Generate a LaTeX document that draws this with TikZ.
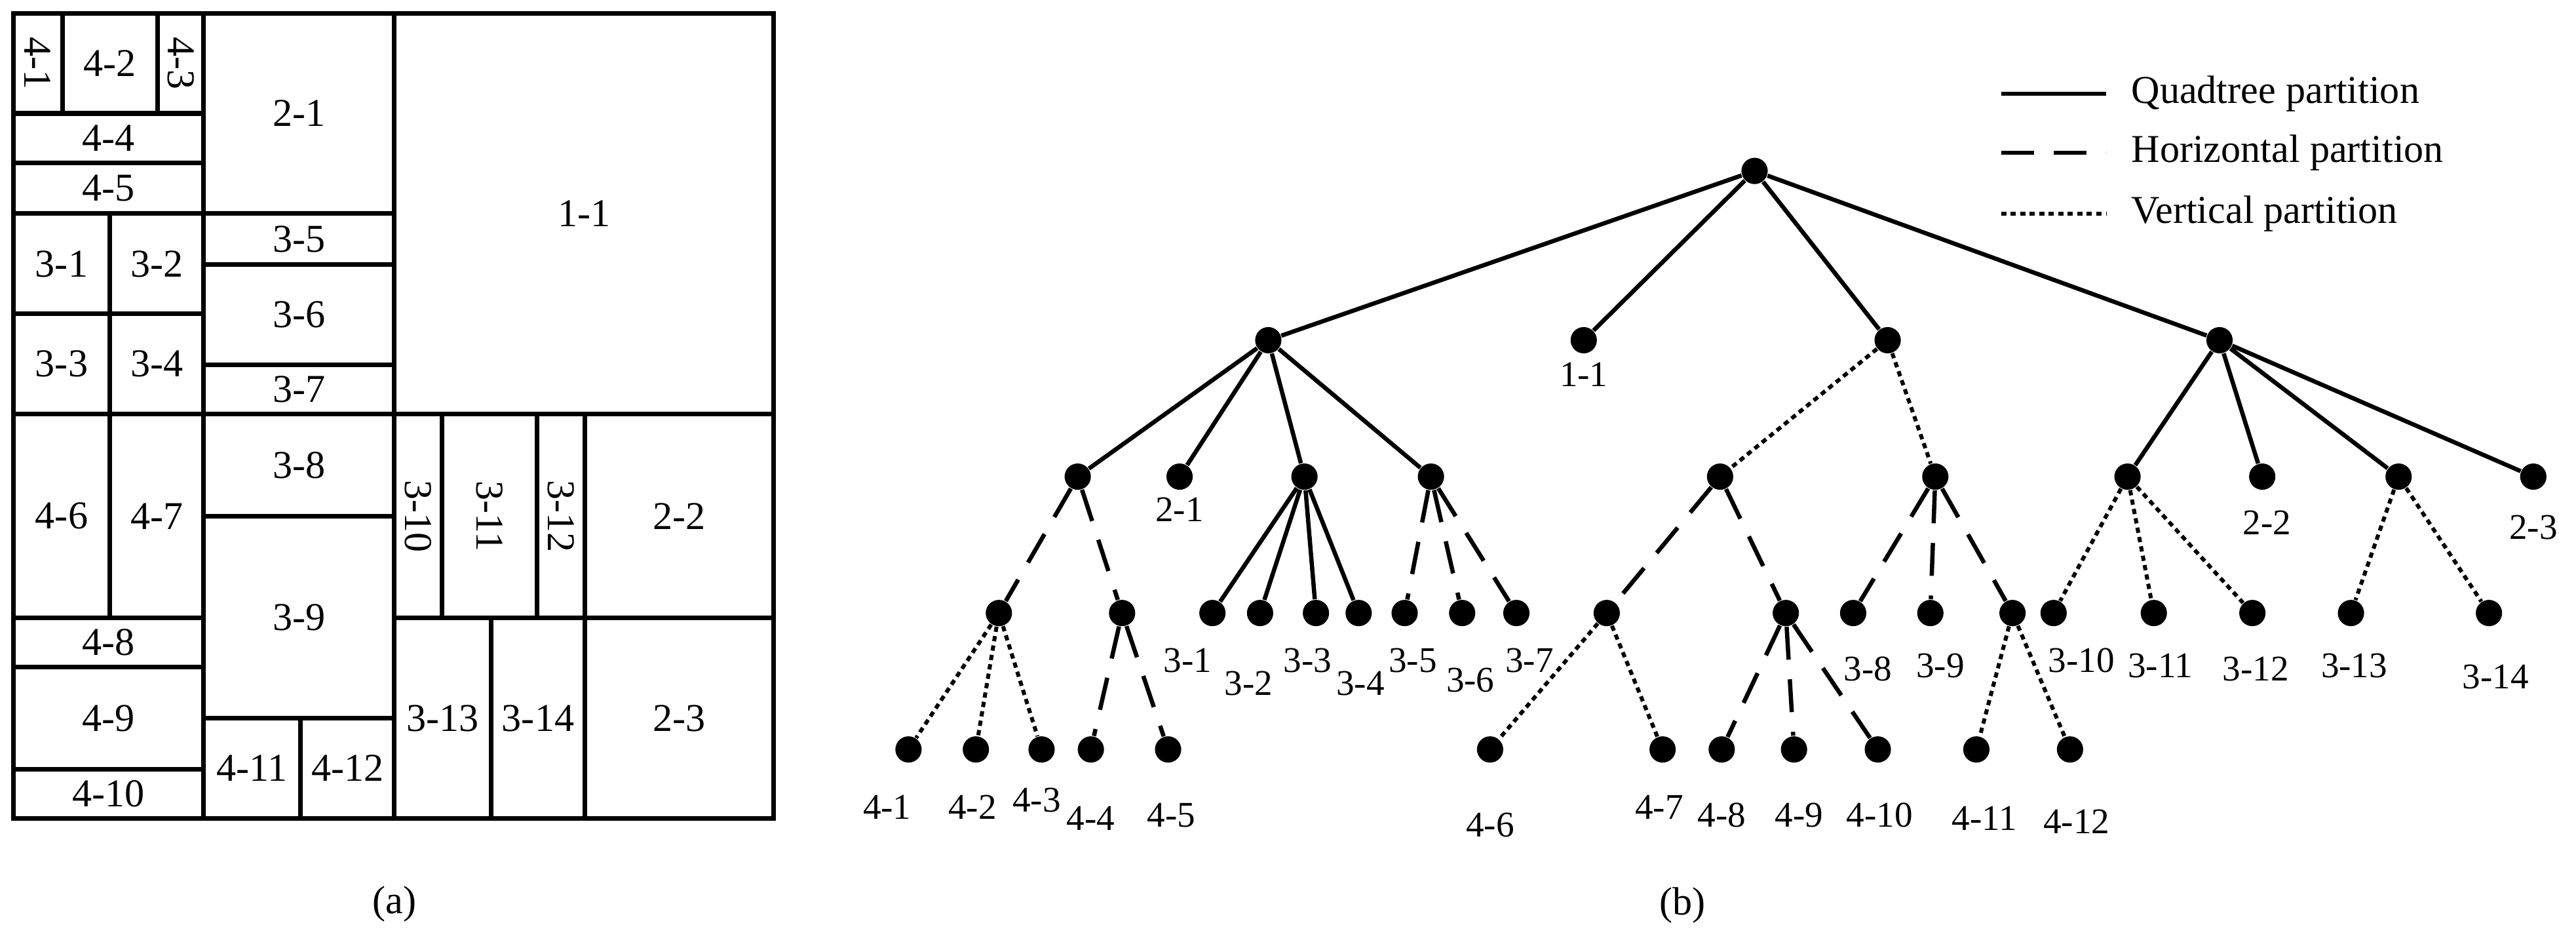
\documentclass[tikz,border=0pt]{standalone}
\usepackage{fontspec}
\setmainfont{Liberation Serif}
\begin{document}
\begin{tikzpicture}[x=0.5pt,y=-0.5pt,
  box/.style={draw,line width=1.4pt},
  lbl/.style={font=\fontsize{12}{14}\selectfont,inner sep=0pt},
  dot/.style={circle,fill=black,inner sep=0pt,minimum size=8pt},
  tl/.style={font=\fontsize{11}{13}\selectfont,inner sep=0pt},
  qd/.style={line width=1.3pt},
  hz/.style={line width=1.3pt,dash pattern=on 10pt off 6pt},
  vt/.style={line width=1.2pt,dash pattern=on 1.6pt off 1.3pt}]
\useasboundingbox (0,0) rectangle (1568,574);
% ---- panel (a)
\def\cell#1#2#3#4#5{\draw[box] (#1,#2) rectangle (#3,#4); \node[lbl] at ({(#1+#3)/2},{(#2+#4)/2}) {#5};}
\def\rcell#1#2#3#4#5{\draw[box] (#1,#2) rectangle (#3,#4); \node[lbl,rotate=-90] at ({(#1+#3)/2},{(#2+#4)/2}) {#5};}
\rcell{8}{8}{38}{69}{4-1}
\cell{38}{8}{96}{69}{4-2}
\rcell{96}{8}{124}{69}{4-3}
\cell{8}{69}{124}{99}{4-4}
\cell{8}{99}{124}{130}{4-5}
\cell{124}{8}{240}{130}{2-1}
\cell{8}{130}{67}{191}{3-1}
\cell{67}{130}{124}{191}{3-2}
\cell{8}{191}{67}{252}{3-3}
\cell{67}{191}{124}{252}{3-4}
\cell{124}{130}{240}{161}{3-5}
\cell{124}{161}{240}{222}{3-6}
\cell{124}{222}{240}{252}{3-7}
\cell{240}{8}{471}{252}{1-1}
\cell{8}{252}{67}{376}{4-6}
\cell{67}{252}{124}{376}{4-7}
\cell{8}{376}{124}{406}{4-8}
\cell{8}{406}{124}{468}{4-9}
\cell{8}{468}{124}{498}{4-10}
\cell{124}{252}{240}{314}{3-8}
\cell{124}{314}{240}{437}{3-9}
\cell{124}{437}{183}{498}{4-11}
\cell{183}{437}{240}{498}{4-12}
\rcell{240}{252}{269}{376}{3-10}
\rcell{269}{252}{327}{376}{3-11}
\rcell{327}{252}{356}{376}{3-12}
\cell{356}{252}{471}{376}{2-2}
\cell{240}{376}{299}{498}{3-13}
\cell{299}{376}{356}{498}{3-14}
\cell{356}{376}{471}{498}{2-3}
\node[lbl] (capa) at (240,550) {(a)};
% ---- panel (b) legend
\coordinate (q1) at (1218,57); \coordinate (q2) at (1282,57);
\coordinate (h1) at (1218,93); \coordinate (h2) at (1282,93);
\coordinate (v1) at (1218,130); \coordinate (v2) at (1282,130);
\draw[qd] (q1) -- (q2); \draw[hz] (h1) -- (h2); \draw[vt] (v1) -- (v2);
\node[lbl,anchor=west] (lq) at (1297,57) {Quadtree partition};
\node[lbl,anchor=west] (lh) at (1297,93) {Horizontal partition};
\node[lbl,anchor=west] (lv) at (1297,130) {Vertical partition};
% ---- tree nodes
\node[dot] (r) at (1068,104) {};
\node[dot] (A) at (772,207) {};
\node[dot] (n11) at (964,207) {};
\node[dot] (B) at (1149,207) {};
\node[dot] (C) at (1351,207) {};
\node[dot] (a1) at (656,290) {};
\node[dot] (n21) at (718,290) {};
\node[dot] (a3) at (794,290) {};
\node[dot] (a4) at (871,290) {};
\node[dot] (b1) at (1047,290) {};
\node[dot] (b2) at (1178,290) {};
\node[dot] (c1) at (1295,290) {};
\node[dot] (n22) at (1377,290) {};
\node[dot] (c3) at (1460,290) {};
\node[dot] (n23) at (1542,290) {};
\node[dot] (d1) at (608,373) {};
\node[dot] (d2) at (683,373) {};
\node[dot] (n31) at (738,373) {};
\node[dot] (n32) at (767,373) {};
\node[dot] (n33) at (801,373) {};
\node[dot] (n34) at (827,373) {};
\node[dot] (n35) at (855,373) {};
\node[dot] (n36) at (890,373) {};
\node[dot] (n37) at (923,373) {};
\node[dot] (e1) at (978,373) {};
\node[dot] (e2) at (1087,373) {};
\node[dot] (n38) at (1128,373) {};
\node[dot] (n39) at (1175,373) {};
\node[dot] (e3) at (1225,373) {};
\node[dot] (n310) at (1250,373) {};
\node[dot] (n311) at (1311,373) {};
\node[dot] (n312) at (1371,373) {};
\node[dot] (n313) at (1431,373) {};
\node[dot] (n314) at (1515,373) {};
\node[dot] (n41) at (553,456) {};
\node[dot] (n42) at (594,456) {};
\node[dot] (n43) at (634,456) {};
\node[dot] (n44) at (664,456) {};
\node[dot] (n45) at (711,456) {};
\node[dot] (n46) at (907,456) {};
\node[dot] (n47) at (1012,456) {};
\node[dot] (n48) at (1048,456) {};
\node[dot] (n49) at (1092,456) {};
\node[dot] (n410) at (1143,456) {};
\node[dot] (n411) at (1203,456) {};
\node[dot] (n412) at (1260,456) {};
% ---- edges
\draw[qd] (r)--(A) (r)--(n11) (r)--(B) (r)--(C);
\draw[qd] (A)--(a1) (A)--(n21) (A)--(a3) (A)--(a4);
\draw[qd] (C)--(c1) (C)--(n22) (C)--(c3) (C)--(n23);
\draw[qd] (a3)--(n31) (a3)--(n32) (a3)--(n33) (a3)--(n34);
\draw[hz] (a1)--(d1) (a1)--(d2);
\draw[hz] (a4)--(n35) (a4)--(n36) (a4)--(n37);
\draw[vt] (B)--(b1) (B)--(b2);
\draw[hz] (b1)--(e1) (b1)--(e2);
\draw[hz] (b2)--(n38) (b2)--(n39) (b2)--(e3);
\draw[vt] (c1)--(n310) (c1)--(n311) (c1)--(n312);
\draw[vt] (c3)--(n313) (c3)--(n314);
\draw[vt] (d1)--(n41) (d1)--(n42) (d1)--(n43);
\draw[hz] (d2)--(n44) (d2)--(n45);
\draw[vt] (e1)--(n46) (e1)--(n47);
\draw[hz] (e2)--(n48) (e2)--(n49) (e2)--(n410);
\draw[vt] (e3)--(n411) (e3)--(n412);
% ---- tree labels
\node[tl] (t11) at (964,228) {1-1};
\node[tl] (t21) at (718,310) {2-1};
\node[tl] (t22) at (1380,318) {2-2};
\node[tl] (t23) at (1542,321) {2-3};
\node[tl] (t31) at (723,402) {3-1};
\node[tl] (t32) at (760,416) {3-2};
\node[tl] (t33) at (796,402) {3-3};
\node[tl] (t34) at (828,416) {3-4};
\node[tl] (t35) at (860,402) {3-5};
\node[tl] (t36) at (895,414) {3-6};
\node[tl] (t37) at (931,402) {3-7};
\node[tl] (t38) at (1137,407) {3-8};
\node[tl] (t39) at (1181,405) {3-9};
\node[tl] (t310) at (1267,402) {3-10};
\node[tl] (t311) at (1315,405) {3-11};
\node[tl] (t312) at (1373,407) {3-12};
\node[tl] (t313) at (1433,405) {3-13};
\node[tl] (t314) at (1519,412) {3-14};
\node[tl] (t41) at (540,491) {4-1};
\node[tl] (t42) at (592,491) {4-2};
\node[tl] (t43) at (631,487) {4-3};
\node[tl] (t44) at (664,498) {4-4};
\node[tl] (t45) at (713,496) {4-5};
\node[tl] (t46) at (907,502) {4-6};
\node[tl] (t47) at (1010,491) {4-7};
\node[tl] (t48) at (1048,496) {4-8};
\node[tl] (t49) at (1095,496) {4-9};
\node[tl] (t410) at (1144,496) {4-10};
\node[tl] (t411) at (1208,498) {4-11};
\node[tl] (t412) at (1264,500) {4-12};
\node[lbl] (capb) at (1024,551) {(b)};
\end{tikzpicture}
\end{document}
